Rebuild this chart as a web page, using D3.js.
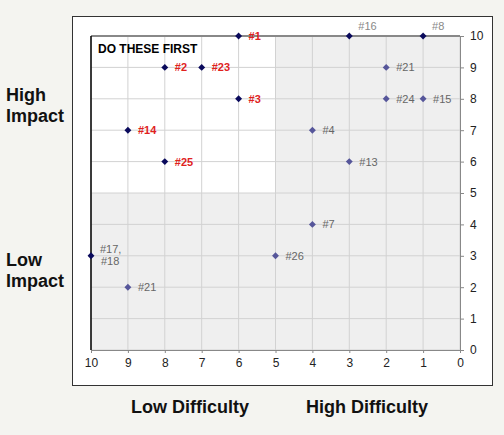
<!DOCTYPE html>
<html>
<head>
<meta charset="utf-8">
<script src="https://cdn.jsdelivr.net/npm/d3@7"></script>
<style>
  body { margin: 0; background: #f4f4f0; }
  svg { display: block; font-family: "Liberation Sans", Arial, sans-serif; }
</style>
</head>
<body>
<script>
// priority matrix: difficulty (x, reversed) vs impact (y)
const width = 504;
const height = 435;

const labels     = ['#1', '#2', '#23', '#3', '#14', '#25', '#16', '#8', '#21', '#24', '#15', '#4', '#13', '#7', '#26', '#17, #18', '#21'];
const difficulty = [6, 8, 7, 6, 9, 8, 3, 1, 2, 2, 1, 4, 3, 4, 5, 10, 9];
const impact     = [10, 9, 9, 8, 7, 6, 10, 10, 9, 8, 8, 7, 6, 4, 3, 3, 2];

const xTicks = [10, 9, 8, 7, 6, 5, 4, 3, 2, 1, 0];
const yTicks = [0, 1, 2, 3, 4, 5, 6, 7, 8, 9, 10];

const points = labels.map((l, i) => ({label: l, x: difficulty[i], y: impact[i]}));

const x = d3.scaleLinear().domain([10, 0]).range([91, 460]);
const y = d3.scaleLinear().domain([0, 10]).range([350, 36]);

const svg = d3.select('body').append('svg')
  .attr('width', width)
  .attr('height', height);

// outer frame
svg.append('rect')
  .attr('x', 72.5).attr('y', 16.5)
  .attr('width', 420).attr('height', 369)
  .attr('fill', '#fff')
  .attr('stroke', '#333');

// plot background: grey everywhere, white "do first" quadrant
svg.append('rect')
  .attr('x', x(10)).attr('y', y(10))
  .attr('width', x(0) - x(10)).attr('height', y(0) - y(10))
  .attr('fill', '#efefef');
svg.append('rect')
  .attr('x', x(10)).attr('y', y(10))
  .attr('width', x(5) - x(10)).attr('height', y(5) - y(10))
  .attr('fill', '#fff');

// grid
svg.append('g')
  .selectAll('line')
  .data(xTicks)
  .join('line')
  .attr('x1', d => x(d)).attr('x2', d => x(d))
  .attr('y1', y(0)).attr('y2', y(10))
  .attr('stroke', '#d2d2d2');
svg.append('g')
  .selectAll('line')
  .data(yTicks)
  .join('line')
  .attr('x1', x(10)).attr('x2', x(0))
  .attr('y1', d => y(d)).attr('y2', d => y(d))
  .attr('stroke', '#d2d2d2');

// axes
const xAxis = g => g
  .attr('transform', `translate(0,${y(0)})`)
  .call(d3.axisBottom(x).tickValues(xTicks).tickSize(3).tickSizeOuter(0).tickPadding(5))
  .call(g => g.select('.domain').attr('stroke', '#888'))
  .call(g => g.selectAll('.tick line').attr('stroke', '#888'))
  .call(g => g.selectAll('.tick text').attr('fill', '#222').attr('font-size', '12px'));

const yAxis = g => g
  .attr('transform', `translate(${x(0)},0)`)
  .call(d3.axisRight(y).tickValues(yTicks).tickSize(4).tickSizeOuter(0).tickPadding(6))
  .call(g => g.select('.domain').attr('stroke', '#888'))
  .call(g => g.selectAll('.tick line').attr('stroke', '#888'))
  .call(g => g.selectAll('.tick text').attr('fill', '#222').attr('font-size', '12px'));

svg.append('g').call(xAxis).attr('font-family', null);
svg.append('g').call(yAxis).attr('font-family', null);

// top and left edges of plot
svg.append('line')
  .attr('x1', x(10)).attr('x2', x(0))
  .attr('y1', y(10)).attr('y2', y(10))
  .attr('stroke', '#888').attr('stroke-width', 2);
svg.append('line')
  .attr('x1', x(10)).attr('x2', x(10))
  .attr('y1', y(10)).attr('y2', y(0))
  .attr('stroke', '#000').attr('stroke-width', 1.5);

svg.append('text')
  .attr('x', 98).attr('y', 53)
  .attr('font-size', '12px').attr('font-weight', 'bold')
  .attr('fill', '#000')
  .text('DO THESE FIRST');

const doFirst = d => d.x >= 5 && d.y >= 5;
const onEdge = d => d.y === 10 || d.x === 10;

// points (square diamonds)
svg.append('g')
  .selectAll('path')
  .data(points)
  .join('path')
  .attr('transform', d => `translate(${x(d.x)},${y(d.y)}) rotate(45)`)
  .attr('d', d3.symbol(d3.symbolSquare, 24))
  .attr('fill', d => doFirst(d) || onEdge(d) ? '#0a0a5c' : '#56569a');

// point labels
const lab = svg.append('g')
  .selectAll('text')
  .data(points)
  .join('text')
  .attr('font-size', '11px')
  .attr('font-weight', d => doFirst(d) ? 'bold' : null)
  .attr('fill', d => doFirst(d) ? '#e0221d' : (d.y === 10 ? '#888' : '#666'))
  .attr('x', d => x(d.x) + (d.y === 10 && !doFirst(d) ? 9 : 10))
  .attr('y', d => y(d.y) + (d.y === 10 && !doFirst(d) ? -6 : 4));

lab.each(function(d) {
  const parts = d.label.split(' ');
  const t = d3.select(this);
  if (parts.length === 1) { t.text(d.label); return; }
  parts.forEach((p, i) => {
    t.append('tspan')
      .attr('x', x(d.x) + 9 + i)
      .attr('dy', i === 0 ? -7 : 12)
      .text(p);
  });
});

// quadrant captions
const caption = svg.append('g')
  .attr('font-size', '18px').attr('font-weight', 'bold').attr('fill', '#111');
caption.append('text').attr('x', 6).attr('y', 101).text('High');
caption.append('text').attr('x', 6).attr('y', 122).text('Impact');
caption.append('text').attr('x', 6).attr('y', 266).text('Low');
caption.append('text').attr('x', 6).attr('y', 287).text('Impact');
caption.append('text').attr('x', 190).attr('y', 413).attr('text-anchor', 'middle').text('Low Difficulty');
caption.append('text').attr('x', 367).attr('y', 413).attr('text-anchor', 'middle').text('High Difficulty');
</script>
</body>
</html>
